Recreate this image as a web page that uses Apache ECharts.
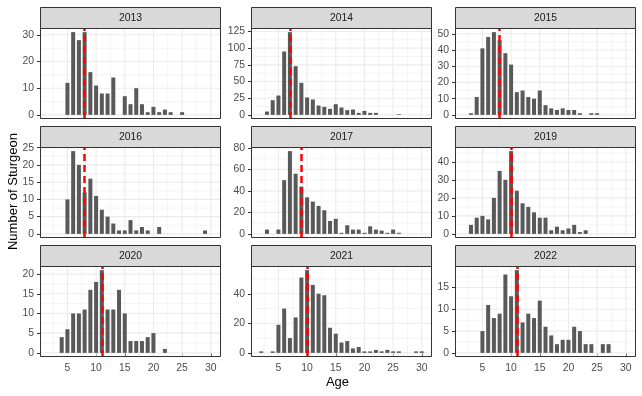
<!DOCTYPE html>
<html><head><meta charset="utf-8">
<script src="https://cdn.jsdelivr.net/npm/echarts@6/dist/echarts.min.js"></script>
<style>html,body{margin:0;padding:0;background:#fff}#c{width:642px;height:396px}</style>
</head><body><div id="c"></div>
<script>
// ---- data ----
const years = ['2013','2014','2015','2016','2017','2019','2020','2021','2022'];
const ages2013 = [5,6,7,8,9,10,11,12,13,15,16,17,18,19,20,21,22,23,25];
const counts2013 = [12,31,28,31,16,11,8,8,14,7,4,10,4,1,3,1,2,1,1];
const ages2014 = [3,4,5,6,7,8,9,10,11,12,13,14,15,16,17,18,19,20,21,22,26];
const counts2014 = [5,22,29,95,124,73,48,26,23,14,12,9,16,11,7,8,3,6,3,3,1];
const ages2015 = [3,4,5,6,7,8,9,10,11,12,13,14,15,16,17,18,19,20,21,22,24,25];
const counts2015 = [1,11,41,48,51,46,38,31,14,15,11,10,15,6,4,3,4,3,3,1,1,1];
const ages2016 = [5,6,7,8,9,10,11,12,13,14,15,16,17,18,19,21,29];
const counts2016 = [10,24,20,12,16,11,7,5,3,1,1,4,1,2,1,2,1];
const ages2017 = [3,5,6,7,8,9,10,11,12,13,14,15,16,17,18,19,20,21,22,23,24,25,26];
const counts2017 = [4,4,50,77,56,44,34,30,26,22,12,14,1,8,4,4,1,7,4,3,1,4,1];
const ages2019 = [3,4,5,6,7,8,9,10,11,12,13,14,15,16,17,18,19,20,21,22,23];
const counts2019 = [5,9,10,8,20,35,30,46,24,17,15,12,9,9,2,4,2,3,5,1,2];
const ages2020 = [4,5,6,7,8,9,10,11,12,13,14,15,16,17,18,19,20,22];
const counts2020 = [4,6,10,10,11,16,18,21,11,11,16,10,3,3,3,4,5,1];
const ages2021 = [2,4,5,6,7,8,9,10,11,12,13,14,15,16,17,18,19,20,21,22,23,24,25,26,29,30];
const counts2021 = [1,1,19,30,10,24,51,56,46,40,39,17,13,7,8,3,4,1,1,2,1,2,1,1,1,1];
const ages2022 = [5,6,7,8,9,10,11,12,13,14,15,16,17,18,19,20,21,22,23,24,26,27];
const counts2022 = [5,11,8,9,18,13,19,7,9,8,12,6,4,2,3,3,6,5,2,2,2,2];
const medianAges = [8,7,8,8,9,10,11,10,11];
const xTicks = [5,10,15,20,25,30];
const yTicks2013 = [0,10,20,30];
const yTicks2014 = [0,25,50,75,100,125];
const yTicks2015 = [0,10,20,30,40,50];
const yTicks2016 = [0,5,10,15,20,25];
const yTicks2017 = [0,20,40,60,80];
const yTicks2019 = [0,10,20,30,40];
const yTicks2020 = [0,5,10,15,20];
const yTicks2021 = [0,20,40];
const yTicks2022 = [0,5,10,15];

const agesList = [ages2013,ages2014,ages2015,ages2016,ages2017,ages2019,ages2020,ages2021,ages2022];
const countsList = [counts2013,counts2014,counts2015,counts2016,counts2017,counts2019,counts2020,counts2021,counts2022];
const yTicksList = [yTicks2013,yTicks2014,yTicks2015,yTicks2016,yTicks2017,yTicks2019,yTicks2020,yTicks2021,yTicks2022];

// ---- layout ----
const colL = [40, 251, 455];
const colW = [181, 181, 181];
const rowT = [28, 147, 266];
const stripT = [7, 126, 245];
const PH = 91;
const FONT = '"Liberation Sans", Arial, sans-serif';

const allAges = [].concat(...agesList);
const lo = Math.min(...allAges) - 0.35, hi = Math.max(...allAges) + 0.35;
const xPad = (hi - lo) * 0.05;
const xMin = lo - xPad, xMax = hi + xPad;

function minorBreaks(ticks, min, max) {
  const step = ticks[1] - ticks[0];
  const out = [];
  for (let v = ticks[0] - step / 2; v <= ticks[ticks.length - 1] + step / 2 + 1e-9; v += step) {
    if (v > min && v < max) out.push(v);
  }
  return out;
}

const grids = [], xAxes = [], yAxes = [], series = [], graphics = [];
years.forEach((yr, i) => {
  const r = Math.floor(i / 3), c = i % 3;
  const L = colL[c], W = colW[c], T = rowT[r];
  const m = Math.max(...countsList[i]);
  const yMin = -0.05 * m, yMax = 1.05 * m;
  grids.push({ left: L, top: T, width: W, height: PH, containLabel: false });
  const bottom = r === 2;
  xAxes.push({
    gridIndex: i, type: 'value', min: xMin, max: xMax,
    axisLine: { show: false }, splitLine: { show: false },
    axisTick: { show: bottom, customValues: xTicks, length: 3, lineStyle: { color: '#333333' } },
    axisLabel: { show: bottom, customValues: xTicks, color: '#4D4D4D', fontSize: 10.4, fontFamily: FONT, margin: 6 }
  });
  const yt = yTicksList[i];
  yAxes.push({
    gridIndex: i, type: 'value', min: yMin, max: yMax,
    axisLine: { show: false }, splitLine: { show: false },
    axisTick: { show: true, customValues: yt, length: 3, lineStyle: { color: '#333333' } },
    axisLabel: { show: true, customValues: yt, color: '#4D4D4D', fontSize: 10.4, fontFamily: FONT, margin: 6 }
  });
  // grid lines (behind bars)
  const vData = xTicks.map(v => [v, 0, 1.1]).concat(minorBreaks(xTicks, xMin, xMax).map(v => [v, 0, 0.55]));
  const hData = yt.map(v => [xMin, v, 1.1]).concat(minorBreaks(yt, yMin, yMax).map(v => [xMin, v, 0.55]));
  series.push({
    type: 'custom', xAxisIndex: i, yAxisIndex: i, silent: true, z: 1, clip: false,
    renderItem: (params, api) => {
      const cs = params.coordSys;
      const x = api.coord([api.value(0), 0])[0];
      return { type: 'line', shape: { x1: x, y1: cs.y, x2: x, y2: cs.y + cs.height }, style: { stroke: '#EBEBEB', lineWidth: api.value(2) } };
    },
    data: vData
  });
  series.push({
    type: 'custom', xAxisIndex: i, yAxisIndex: i, silent: true, z: 1, clip: false,
    renderItem: (params, api) => {
      const cs = params.coordSys;
      const y = api.coord([xMin, api.value(1)])[1];
      return { type: 'line', shape: { x1: cs.x, y1: y, x2: cs.x + cs.width, y2: y }, style: { stroke: '#EBEBEB', lineWidth: api.value(2) } };
    },
    data: hData
  });
  series.push({
    type: 'bar', xAxisIndex: i, yAxisIndex: i, z: 2, barWidth: 4,
    itemStyle: { color: '#595959' },
    data: agesList[i].map((a, k) => [a, countsList[i][k]]),
    markLine: {
      silent: true, symbol: ['none', 'none'], label: { show: false },
      lineStyle: { color: '#FF0000', type: [7, 4], width: 2.5, opacity: 1 },
      emphasis: { disabled: true },
      data: [{ xAxis: medianAges[i] }]
    }
  });
  // strip
  graphics.push({ type: 'rect', silent: true, z: 50, shape: { x: L + 0.5, y: stripT[r] + 0.5, width: W - 1, height: T - stripT[r] }, style: { fill: '#D9D9D9', stroke: '#333333', lineWidth: 1 } });
  graphics.push({ type: 'text', silent: true, z: 51, x: L + W / 2, y: (stripT[r] + T) / 2 + 1, style: { text: yr, fill: '#1A1A1A', font: '10.4px ' + FONT, align: 'center', verticalAlign: 'middle' } });
  // panel border
  graphics.push({ type: 'rect', silent: true, z: 100, shape: { x: L + 0.5, y: T + 0.5, width: W - 1, height: PH - 1 }, style: { fill: 'none', stroke: '#333333', lineWidth: 1 } });
});
graphics.push({ type: 'text', silent: true, z: 60, x: 337.5, y: 382, style: { text: 'Age', fill: '#000000', font: '13px ' + FONT, align: 'center', verticalAlign: 'middle' } });
graphics.push({ type: 'text', silent: true, z: 60, x: 13, y: 191.5, rotation: Math.PI / 2, style: { text: 'Number of Sturgeon', fill: '#000000', font: '13px ' + FONT, align: 'center', verticalAlign: 'middle' } });

const chart = echarts.init(document.getElementById('c'), null, { renderer: 'canvas' });
chart.setOption({
  animation: false,
  backgroundColor: '#FFFFFF',
  grid: grids, xAxis: xAxes, yAxis: yAxes, series: series, graphic: graphics
});
</script>
</body></html>
